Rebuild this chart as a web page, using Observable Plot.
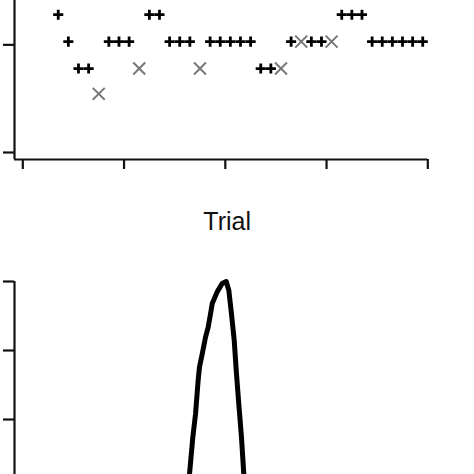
<!DOCTYPE html>
<html><head><meta charset="utf-8">
<script src="https://cdn.jsdelivr.net/npm/d3@7"></script>
<script src="https://cdn.jsdelivr.net/npm/@observablehq/plot@0.6"></script>
<style>
html,body{margin:0;padding:0;background:#fff;width:474px;height:474px;overflow:hidden;}
#topPanel,#bottomPanel{position:absolute;left:0;}
#topPanel{top:0}
#bottomPanel{top:240px}
</style></head><body>
<div id="topPanel"></div><div id="bottomPanel"></div>
<script>
// Top panel: trial-by-trial responses
const trials  = [4,5,6,7,8,9,10,11,12,13,14,15,16,17,18,19,20,21,22,23,24,25,26,27,28,29,30,31,32,33,34,35,36,37,38,39,40];
const levels  = [1.28,1.03,0.78,0.78,0.545,1.03,1.03,1.03,0.78,1.28,1.28,1.03,1.03,1.03,0.78,1.03,1.03,1.03,1.03,1.03,0.78,0.78,0.78,1.03,1.03,1.03,1.03,1.03,1.28,1.28,1.28,1.03,1.03,1.03,1.03,1.03,1.03];
const correct = [1,1,1,1,0,1,1,1,0,1,1,1,1,1,0,1,1,1,1,1,1,1,0,1,0,1,1,0,1,1,1,1,1,1,1,1,1];
const xTicks = [0,10,20,30,40];
const yTicksTop = [0,1];
const xLabel = "Trial";

// Bottom panel: curve
const curveX = [16.46,16.79,17.06,17.32,17.45,17.72,18.04,18.31,18.54,18.71,19.20,19.69,20.09,20.35,20.61,20.88,21.08,21.33,21.60,21.83];
const curveY = [0.20,0.74,1.08,1.57,1.76,1.95,2.19,2.34,2.53,2.68,2.85,2.97,3.00,2.87,2.53,2.15,1.71,1.23,0.74,0.20];
const yTicksBottom = [1,2,3];

const xDomain = [-0.82, 40];
const yDomainTop = [-0.065, 1.412];
const yDomainBottom = [0.203, 3];

const rows = trials.map((t, i) => ({trial: t, level: levels[i], correct: correct[i]}));
const curve = curveX.map((x, i) => ({x, y: curveY[i]}));
const ink = "#111";
const font = "'Liberation Sans', Arial, sans-serif";

const topPlot = Plot.plot({
  width: 474, height: 240,
  marginTop: 0, marginBottom: 81, marginLeft: 14, marginRight: 46.7,
  x: {domain: xDomain},
  y: {domain: yDomainTop},
  style: {background: "white", fontFamily: font, overflow: "visible"},
  marks: [
    Plot.ruleX([xDomain[0]], {stroke: ink, strokeWidth: 2.2}),
    Plot.ruleY([yDomainTop[0]], {stroke: ink, strokeWidth: 2.2}),
    Plot.axisX({ticks: xTicks, tickSize: 10, tickFormat: () => "", stroke: ink, strokeWidth: 2.2, label: null}),
    Plot.axisY({ticks: yTicksTop, tickSize: 11, tickFormat: () => "", stroke: ink, strokeWidth: 2.2, label: null}),
    Plot.dot(rows.filter(d => d.correct), {x: d => d.trial - 0.5, y: "level", symbol: "plus", r: 3.35, stroke: "#000", strokeWidth: 2.8}),
    Plot.dot(rows.filter(d => !d.correct), {x: d => d.trial - 0.5, y: "level", symbol: "times", r: 5.5, stroke: "#777", strokeWidth: 2}),
    Plot.text([xLabel], {text: d => d, frameAnchor: "bottom", dy: 70, dx: 6, fontSize: 25, fill: ink})
  ]
});
document.getElementById("topPanel").appendChild(topPlot);

const bottomPlot = Plot.plot({
  width: 474, height: 234,
  marginTop: 41, marginBottom: 0, marginLeft: 14, marginRight: 46.7,
  x: {domain: xDomain, axis: null},
  y: {domain: yDomainBottom},
  style: {background: "white", fontFamily: font},
  marks: [
    Plot.ruleX([xDomain[0]], {stroke: ink, strokeWidth: 2.2}),
    Plot.axisY({ticks: yTicksBottom, tickSize: 11, tickFormat: () => "", stroke: ink, strokeWidth: 2.2, label: null}),
    Plot.line(curve, {x: "x", y: "y", stroke: "#000", strokeWidth: 5, strokeLinejoin: "round"})
  ]
});
document.getElementById("bottomPanel").appendChild(bottomPlot);
</script>
</body></html>
